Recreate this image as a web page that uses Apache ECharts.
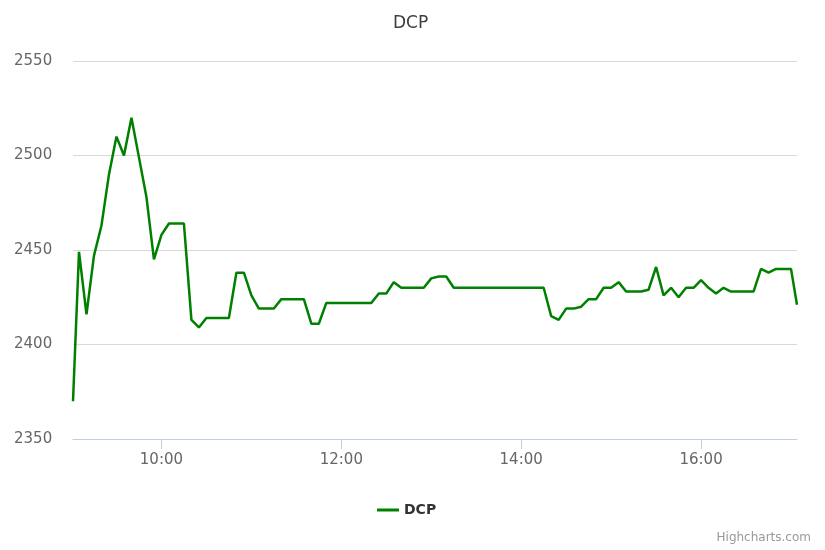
<!DOCTYPE html>
<html>
<head>
<meta charset="utf-8">
<title>DCP</title>
<script src="https://cdn.jsdelivr.net/npm/echarts@6/dist/echarts.min.js"></script>
<style>
  html, body { margin: 0; padding: 0; background: #fff; }
  #chart { width: 825px; height: 550px; }
</style>
</head>
<body>
<div id="chart"></div>
<script>
// ===== 数据 =====
const times = [
  '09:01', '09:05', '09:10', '09:15', '09:20', '09:25', '09:30', '09:35', '09:40', '09:45',
  '09:50', '09:55', '10:00', '10:05', '10:10', '10:15', '10:20', '10:25', '10:30', '10:35',
  '10:40', '10:45', '10:50', '10:55', '11:00', '11:05', '11:10', '11:15', '11:20', '11:25',
  '11:30', '11:35', '11:40', '11:45', '11:50', '11:55', '12:00', '12:05', '12:10', '12:15',
  '12:20', '12:25', '12:30', '12:35', '12:40', '12:45', '12:50', '12:55', '13:00', '13:05',
  '13:10', '13:15', '13:20', '13:25', '13:30', '13:35', '13:40', '13:45', '13:50', '13:55',
  '14:00', '14:05', '14:10', '14:15', '14:20', '14:25', '14:30', '14:35', '14:40', '14:45',
  '14:50', '14:55', '15:00', '15:05', '15:10', '15:15', '15:20', '15:25', '15:30', '15:35',
  '15:40', '15:45', '15:50', '15:55', '16:00', '16:05', '16:10', '16:15', '16:20', '16:25',
  '16:30', '16:35', '16:40', '16:45', '16:50', '16:55', '17:00', '17:04'
]

const dcpValues = [
  2370, 2449, 2416, 2447, 2463, 2490, 2510, 2500, 2520, 2499,
  2478, 2445, 2458, 2464, 2464, 2464, 2413, 2409, 2414, 2414,
  2414, 2414, 2438, 2438, 2426, 2419, 2419, 2419, 2424, 2424,
  2424, 2424, 2411, 2411, 2422, 2422, 2422, 2422, 2422, 2422,
  2422, 2427, 2427, 2433, 2430, 2430, 2430, 2430, 2435, 2436,
  2436, 2430, 2430, 2430, 2430, 2430, 2430, 2430, 2430, 2430,
  2430, 2430, 2430, 2430, 2415, 2413, 2419, 2419, 2420, 2424,
  2424, 2430, 2430, 2433, 2428, 2428, 2428, 2429, 2441, 2426,
  2430, 2425, 2430, 2430, 2434, 2430, 2427, 2430, 2428, 2428,
  2428, 2428, 2440, 2438, 2440, 2440, 2440, 2421
]

const xTickLabels = ['10:00', '12:00', '14:00', '16:00']
const yTicks = [2350, 2400, 2450, 2500, 2550]

// ===== 工具 =====
function toMinutes(t) {
  const [h, m] = t.split(':').map(Number)
  return h * 60 + m
}

function fromMinutes(v) {
  const h = Math.floor(v / 60)
  const m = Math.round(v % 60)
  return String(h).padStart(2, '0') + ':' + String(m).padStart(2, '0')
}

const FONT = 'DejaVu Sans'
const xTickValues = xTickLabels.map(toMinutes)

const chart = echarts.init(document.getElementById('chart'))

chart.setOption({
  animation: false,
  backgroundColor: '#ffffff',
  title: {
    text: 'DCP',
    left: 388,
    top: 10,
    textStyle: {
      fontFamily: FONT,
      fontSize: 17,
      fontWeight: 'normal',
      color: '#3e3e3e'
    }
  },
  grid: {
    left: 73,
    right: 28,
    top: 61,
    bottom: 111
  },
  legend: {
    data: ['DCP'],
    left: 372,
    top: 498,
    icon: 'rect',
    itemWidth: 22,
    itemHeight: 3,
    itemGap: 20,
    textStyle: {
      fontFamily: FONT,
      fontSize: 14,
      fontWeight: 'bold',
      color: '#333'
    }
  },
  xAxis: {
    type: 'value',
    min: toMinutes(times[0]),
    max: toMinutes(times[times.length - 1]),
    z: 5,
    axisLine: {
      lineStyle: { color: '#c0d0e0', width: 1 }
    },
    axisTick: {
      show: true,
      length: 10,
      customValues: xTickValues,
      lineStyle: { color: '#c0d0e0' }
    },
    axisLabel: {
      customValues: xTickValues,
      margin: 14,
      fontFamily: FONT,
      fontSize: 15,
      color: '#666',
      formatter: v => fromMinutes(v)
    },
    splitLine: { show: false }
  },
  yAxis: {
    type: 'value',
    min: yTicks[0],
    max: yTicks[yTicks.length - 1],
    interval: 50,
    axisLine: { show: false },
    axisTick: { show: false },
    axisLabel: {
      align: 'left',
      margin: 59,
      fontFamily: FONT,
      fontSize: 15,
      color: '#666',
      formatter: v => String(v)
    },
    splitLine: {
      showMinLine: false,
      lineStyle: { color: '#d8d8d8', width: 1 }
    }
  },
  graphic: [
    {
      type: 'text',
      right: 14,
      top: 532,
      style: {
        text: 'Highcharts.com',
        fontFamily: FONT,
        fontSize: 12,
        fill: '#999'
      }
    }
  ],
  series: [
    {
      name: 'DCP',
      type: 'line',
      symbol: 'none',
      color: '#008000',
      lineStyle: { color: '#008000', width: 2.5 },
      data: times.map((t, i) => [toMinutes(t), dcpValues[i]])
    }
  ]
})
</script>
</body>
</html>
